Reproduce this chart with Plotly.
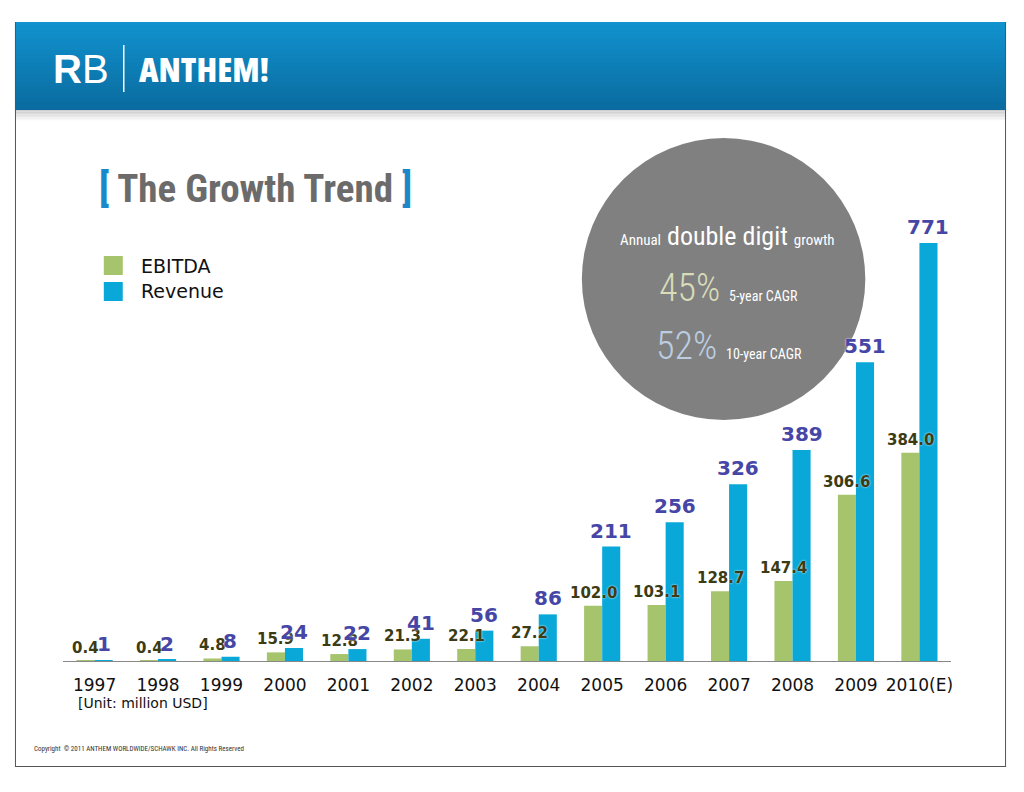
import plotly.graph_objects as go

years = ["1997", "1998", "1999", "2000", "2001", "2002", "2003", "2004",
         "2005", "2006", "2007", "2008", "2009", "2010(E)"]
ebitda = [0.4, 0.4, 4.8, 15.9, 12.8, 21.3, 22.1, 27.2, 102.0, 103.1, 128.7, 147.4, 306.6, 384.0]
revenue = [1, 2, 8, 24, 22, 41, 56, 86, 211, 256, 326, 389, 551, 771]

GREEN = "#a6c46c"
BLUE = "#0aa8d8"
W, H = 1024, 792


def px(x):
    return x / W


def py(y):
    return 1 - y / H


fig = go.Figure()
fig.add_trace(go.Bar(x=years, y=ebitda, name="EBITDA", marker=dict(color=GREEN, line=dict(width=0)),
                     showlegend=False, hoverinfo="skip"))
fig.add_trace(go.Bar(x=years, y=revenue, name="Revenue", marker=dict(color=BLUE, line=dict(width=0)),
                     showlegend=False, hoverinfo="skip"))

shapes = []
annotations = []

# header gradient band
top, bot = 22, 110
steps = 22
c1 = (17, 146, 206)
c2 = (10, 108, 160)
for i in range(steps):
    t = i / (steps - 1)
    c = tuple(int(c1[k] + (c2[k] - c1[k]) * t) for k in range(3))
    y0 = top + (bot - top) * i / steps
    y1 = top + (bot - top) * (i + 1) / steps + 0.5
    shapes.append(dict(type="rect", xref="paper", yref="paper", x0=px(15), x1=px(1008),
                       y0=py(y1), y1=py(y0), fillcolor="rgb(%d,%d,%d)" % c, line=dict(width=0), layer="below"))
# shadow below header
for i in range(8):
    g = int(205 + (255 - 205) * i / 7)
    shapes.append(dict(type="rect", xref="paper", yref="paper", x0=px(15), x1=px(1008),
                       y0=py(110 + i * 1.5 + 1.5), y1=py(110 + i * 1.5), fillcolor="rgb(%d,%d,%d)" % (g, g, g),
                       line=dict(width=0), layer="below"))
# frame
shapes.append(dict(type="line", xref="paper", yref="paper", x0=px(15.5), x1=px(15.5), y0=py(22), y1=py(767),
                   line=dict(color="#555555", width=1)))
shapes.append(dict(type="line", xref="paper", yref="paper", x0=px(1007.5), x1=px(1007.5), y0=py(22), y1=py(767),
                   line=dict(color="#555555", width=1)))
shapes.append(dict(type="line", xref="paper", yref="paper", x0=px(15), x1=px(1008), y0=py(766.5), y1=py(766.5),
                   line=dict(color="#555555", width=1)))
# logo separator
shapes.append(dict(type="line", xref="paper", yref="paper", x0=px(124), x1=px(124), y0=py(45), y1=py(92),
                   line=dict(color="white", width=1.5)))
# legend squares
shapes.append(dict(type="rect", xref="paper", yref="paper", x0=px(104), x1=px(123), y0=py(275), y1=py(256),
                   fillcolor=GREEN, line=dict(width=0)))
shapes.append(dict(type="rect", xref="paper", yref="paper", x0=px(104), x1=px(123), y0=py(301), y1=py(282),
                   fillcolor=BLUE, line=dict(width=0)))
# circle
shapes.append(dict(type="circle", xref="paper", yref="paper", x0=px(583), x1=px(867), y0=py(420), y1=py(138),
                   fillcolor="#808080", line=dict(width=0), layer="above"))

COND = "Roboto Condensed, Roboto, sans-serif"

# logo text
annotations.append(dict(xref="paper", yref="paper", x=px(51), y=py(69), xanchor="left", yanchor="middle",
                        text="<b>R</b>B", showarrow=False,
                        font=dict(family="Liberation Sans, Arial, sans-serif", size=40, color="white")))
annotations.append(dict(xref="paper", yref="paper", x=px(137), y=py(69), xanchor="left", yanchor="middle",
                        text="<span style='font-stretch:75%;font-weight:800'>ANTHEM!</span>", showarrow=False,
                        font=dict(family="Open Sans, sans-serif", size=34, color="white")))
# title
annotations.append(dict(xref="paper", yref="paper", x=px(97), y=py(189), xanchor="left", yanchor="middle",
                        text="<span style='color:#1a88c9'>[</span> The Growth Trend <span style='color:#1a88c9'>]</span>",
                        showarrow=False, font=dict(family=COND, size=39, color="#6b6b6b", weight="bold")))
# legend text
annotations.append(dict(xref="paper", yref="paper", x=px(139), y=py(266), xanchor="left", yanchor="middle",
                        text="EBITDA", showarrow=False, font=dict(family="DejaVu Sans", size=19, color="#111111")))
annotations.append(dict(xref="paper", yref="paper", x=px(139), y=py(291), xanchor="left", yanchor="middle",
                        text="Revenue", showarrow=False, font=dict(family="DejaVu Sans", size=19, color="#111111")))
# circle text
annotations.append(dict(xref="paper", yref="paper", x=px(729), y=py(236), xanchor="center", yanchor="middle",
                        text="<span style='font-size:15px'>Annual</span> double digit <span style='font-size:15px'>growth</span>",
                        showarrow=False, font=dict(family=COND, size=26, color="white")))
annotations.append(dict(xref="paper", yref="paper", x=px(730), y=py(288), xanchor="center", yanchor="middle",
                        text="<span style='color:#d8dcb8;font-weight:300'>45%</span> <span style='font-size:14px'>5-year CAGR</span>",
                        showarrow=False, font=dict(family=COND, size=38, color="white")))
annotations.append(dict(xref="paper", yref="paper", x=px(730), y=py(346), xanchor="center", yanchor="middle",
                        text="<span style='color:#bccde2;font-weight:300'>52%</span> <span style='font-size:14px'>10-year CAGR</span>",
                        showarrow=False, font=dict(family=COND, size=38, color="white")))
# unit
annotations.append(dict(xref="paper", yref="paper", x=px(76), y=py(703), xanchor="left", yanchor="middle",
                        text="[Unit: million USD]", showarrow=False,
                        font=dict(family="DejaVu Sans", size=14, color="#111111")))
# copyright
annotations.append(dict(xref="paper", yref="paper", x=px(32), y=py(749), xanchor="left", yanchor="middle",
                        text="Copyright  \u00a9 2011 ANTHEM WORLDWIDE/SCHAWK INC. All Rights Reserved", showarrow=False,
                        font=dict(family=COND, size=7, color="#333333")))

# bar value labels (category index positions)
for i, v in enumerate(ebitda):
    annotations.append(dict(x=i, y=v, xref="x", yref="y", xshift=-9, yshift=2, yanchor="bottom",
                            xanchor="center", text="<b>%.1f</b>" % v, showarrow=False,
                            font=dict(family="DejaVu Sans", size=15, color="#3b3b14",
                                      shadow="0px 0px 2px #ffffff")))
for i, v in enumerate(revenue):
    annotations.append(dict(x=i, y=v, xref="x", yref="y", xshift=9, yshift=2, yanchor="bottom",
                            xanchor="center", text="<b>%d</b>" % v, showarrow=False,
                            font=dict(family="DejaVu Sans", size=20, color="#4646a6",
                                      shadow="0px 0px 2px #ffffff")))

y_top_px, y_base_px = 200, 661
scale = (661 - 243) / 771.0
ymax = (y_base_px - y_top_px) / scale

fig.update_layout(
    width=W, height=H, margin=dict(l=0, r=0, t=0, b=0),
    paper_bgcolor="white", plot_bgcolor="white",
    barmode="group", bargap=0.43, bargroupgap=0,
    shapes=shapes, annotations=annotations,
    xaxis=dict(type="category", domain=[px(63), px(953)], range=[-0.5, 13.5], showline=True,
               linecolor="#888888", linewidth=1, showgrid=False, ticks="",
               tickfont=dict(family="DejaVu Sans", size=17, color="#111111"),
               ticklabelstandoff=9, fixedrange=True),
    yaxis=dict(domain=[py(y_base_px), py(y_top_px)], range=[0, ymax], visible=False, showgrid=False,
               zeroline=False, fixedrange=True),
)

fig.write_html("out.html")
